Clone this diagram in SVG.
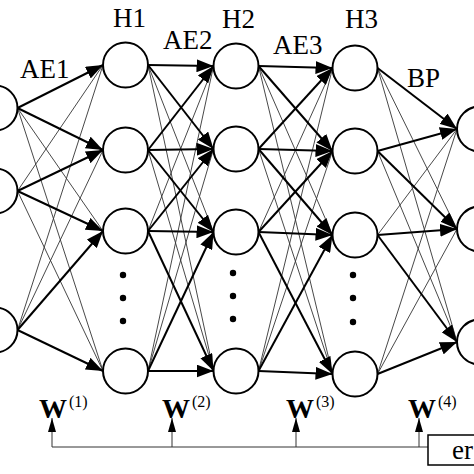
<svg xmlns="http://www.w3.org/2000/svg" width="474" height="474" viewBox="0 0 474 474">
<style>
text{font-family:"Liberation Serif","DejaVu Serif","Noto Serif","Times New Roman",serif;fill:#000}
.lbl{font-size:27px}
.w{font-size:28px;font-weight:bold}
.sup{font-size:16px}
.t{stroke:#000;stroke-width:2;fill:none;marker-end:url(#ah)}
.n{stroke:#333;stroke-width:0.9;fill:none}
.c{fill:#fff;stroke:#000;stroke-width:2}
.fb{stroke:#333;stroke-width:1;fill:none}
.dot{fill:#000}
</style>
<defs>
<marker id="ah" markerUnits="userSpaceOnUse" markerWidth="17" markerHeight="13" viewBox="0 0 17 13" refX="17" refY="6.5" orient="auto">
<path d="M0,0 L17,6.5 L0,13 z" fill="#000"/>
</marker>
<marker id="ahs" markerUnits="userSpaceOnUse" markerWidth="14" markerHeight="8" viewBox="0 0 14 8" refX="14" refY="4" orient="auto">
<path d="M0,0 L14,4 L0,8 z" fill="#000"/>
</marker>
</defs>
<g id="connectors">
<line class="n" x1="17.5" y1="108" x2="103" y2="231"/>
<line class="n" x1="17.5" y1="108" x2="103" y2="371"/>
<line class="n" x1="17.5" y1="191" x2="103" y2="65"/>
<line class="n" x1="17.5" y1="191" x2="103" y2="371"/>
<line class="n" x1="17.5" y1="330" x2="103" y2="65"/>
<line class="n" x1="17.5" y1="330" x2="103" y2="150"/>

<line class="n" x1="148" y1="65" x2="213.5" y2="232"/>
<line class="n" x1="148" y1="65" x2="213.5" y2="371"/>
<line class="n" x1="148" y1="150" x2="213.5" y2="371"/>
<line class="n" x1="148" y1="231" x2="213.5" y2="66"/>
<line class="n" x1="148" y1="371" x2="213.5" y2="66"/>
<line class="n" x1="148" y1="371" x2="213.5" y2="149"/>

<line class="n" x1="258.5" y1="66" x2="332.5" y2="235"/>
<line class="n" x1="258.5" y1="66" x2="332.5" y2="374"/>
<line class="n" x1="258.5" y1="149" x2="332.5" y2="374"/>
<line class="n" x1="258.5" y1="232" x2="332.5" y2="68"/>
<line class="n" x1="258.5" y1="371" x2="332.5" y2="68"/>
<line class="n" x1="258.5" y1="371" x2="332.5" y2="151"/>

<line class="n" x1="377.5" y1="68" x2="457" y2="229"/>
<line class="n" x1="377.5" y1="68" x2="457" y2="342"/>
<line class="n" x1="377.5" y1="151" x2="457" y2="342"/>
<line class="n" x1="377.5" y1="235" x2="457" y2="129"/>
<line class="n" x1="377.5" y1="374" x2="457" y2="129"/>
<line class="n" x1="377.5" y1="374" x2="457" y2="229"/>

<line class="t" x1="17.5" y1="108" x2="103" y2="65"/>
<line class="t" x1="17.5" y1="108" x2="103" y2="150"/>
<line class="t" x1="17.5" y1="191" x2="103" y2="150"/>
<line class="t" x1="17.5" y1="191" x2="103" y2="231"/>
<line class="t" x1="17.5" y1="330" x2="103" y2="231"/>
<line class="t" x1="17.5" y1="330" x2="103" y2="371"/>

<line class="t" x1="148" y1="65" x2="213.5" y2="66"/>
<line class="t" x1="148" y1="65" x2="213.5" y2="149"/>
<line class="t" x1="148" y1="150" x2="213.5" y2="66"/>
<line class="t" x1="148" y1="150" x2="213.5" y2="149"/>
<line class="t" x1="148" y1="150" x2="213.5" y2="232"/>
<line class="t" x1="148" y1="231" x2="213.5" y2="149"/>
<line class="t" x1="148" y1="231" x2="213.5" y2="232"/>
<line class="t" x1="148" y1="231" x2="213.5" y2="371"/>
<line class="t" x1="148" y1="371" x2="213.5" y2="232"/>
<line class="t" x1="148" y1="371" x2="213.5" y2="371"/>

<line class="t" x1="258.5" y1="66" x2="332.5" y2="68"/>
<line class="t" x1="258.5" y1="66" x2="332.5" y2="151"/>
<line class="t" x1="258.5" y1="149" x2="332.5" y2="68"/>
<line class="t" x1="258.5" y1="149" x2="332.5" y2="151"/>
<line class="t" x1="258.5" y1="149" x2="332.5" y2="235"/>
<line class="t" x1="258.5" y1="232" x2="332.5" y2="151"/>
<line class="t" x1="258.5" y1="232" x2="332.5" y2="235"/>
<line class="t" x1="258.5" y1="232" x2="332.5" y2="374"/>
<line class="t" x1="258.5" y1="371" x2="332.5" y2="235"/>
<line class="t" x1="258.5" y1="371" x2="332.5" y2="374"/>

<line class="t" x1="377.5" y1="68" x2="457" y2="129"/>
<line class="t" x1="377.5" y1="151" x2="457" y2="129"/>
<line class="t" x1="377.5" y1="151" x2="457" y2="229"/>
<line class="t" x1="377.5" y1="235" x2="457" y2="229"/>
<line class="t" x1="377.5" y1="235" x2="457" y2="342"/>
<line class="t" x1="377.5" y1="374" x2="457" y2="342"/>

<polyline class="fb" points="428,447 52,447"/>
<line class="fb" x1="52" y1="447" x2="52" y2="418" marker-end="url(#ahs)"/>
<line class="fb" x1="172" y1="447" x2="172" y2="418" marker-end="url(#ahs)"/>
<line class="fb" x1="296" y1="447" x2="296" y2="418" marker-end="url(#ahs)"/>
<line class="fb" x1="419" y1="447" x2="419" y2="418" marker-end="url(#ahs)"/>
</g>
<g id="input">
<circle id="in1" class="c" cx="-5" cy="108" r="22.5"/>
<circle id="in2" class="c" cx="-5" cy="191" r="22.5"/>
<circle id="in3" class="c" cx="-5" cy="330" r="22.5"/>
</g>
<g id="h1">
<circle class="c" cx="125.5" cy="65" r="22.5"/>
<circle class="c" cx="125.5" cy="150" r="22.5"/>
<circle class="c" cx="125.5" cy="231" r="22.5"/>
<circle class="c" cx="125.5" cy="371" r="22.5"/>
<circle class="dot" cx="123" cy="275" r="3.2"/>
<circle class="dot" cx="123" cy="298" r="3.2"/>
<circle class="dot" cx="123" cy="321" r="3.2"/>
</g>
<g id="h2">
<circle class="c" cx="236" cy="66" r="22.5"/>
<circle class="c" cx="236" cy="149" r="22.5"/>
<circle class="c" cx="236" cy="232" r="22.5"/>
<circle class="c" cx="236" cy="371" r="22.5"/>
<circle class="dot" cx="233" cy="273" r="3.2"/>
<circle class="dot" cx="233" cy="296" r="3.2"/>
<circle class="dot" cx="233" cy="319" r="3.2"/>
</g>
<g id="h3">
<circle class="c" cx="355" cy="68" r="22.5"/>
<circle class="c" cx="355" cy="151" r="22.5"/>
<circle class="c" cx="355" cy="235" r="22.5"/>
<circle class="c" cx="355" cy="374" r="22.5"/>
<circle class="dot" cx="353" cy="275" r="3.2"/>
<circle class="dot" cx="353" cy="298" r="3.2"/>
<circle class="dot" cx="353" cy="322" r="3.2"/>
</g>
<g id="output">
<circle class="c" cx="479.5" cy="129" r="22.5"/>
<circle class="c" cx="479.5" cy="229" r="22.5"/>
<circle class="c" cx="479.5" cy="342" r="22.5"/>
</g>
<g id="labels" font-family="Liberation Serif, DejaVu Serif, serif">
<text class="lbl" x="20" y="78">AE1</text>
<text class="lbl" x="113" y="27">H1</text>
<text class="lbl" x="163" y="49">AE2</text>
<text class="lbl" x="222" y="28">H2</text>
<text class="lbl" x="273" y="54">AE3</text>
<text class="lbl" x="345" y="28">H3</text>
<text class="lbl" x="407" y="87">BP</text>
</g>
<g id="weights" font-family="Liberation Serif, DejaVu Serif, serif">
<text x="39" y="418"><tspan class="w">W</tspan><tspan class="sup" dx="2" dy="-11">(1)</tspan></text>
<text x="162" y="418"><tspan class="w">W</tspan><tspan class="sup" dx="2" dy="-11">(2)</tspan></text>
<text x="286" y="418"><tspan class="w">W</tspan><tspan class="sup" dx="2" dy="-11">(3)</tspan></text>
<text x="408" y="418"><tspan class="w">W</tspan><tspan class="sup" dx="2" dy="-11">(4)</tspan></text>
</g>
<g id="error">
<rect x="428" y="435" width="80" height="30" fill="#fff" stroke="#000" stroke-width="1.5"/>
<text class="lbl" x="452" y="459" font-family="Liberation Serif, DejaVu Serif, serif">er</text>
</g>
</svg>
